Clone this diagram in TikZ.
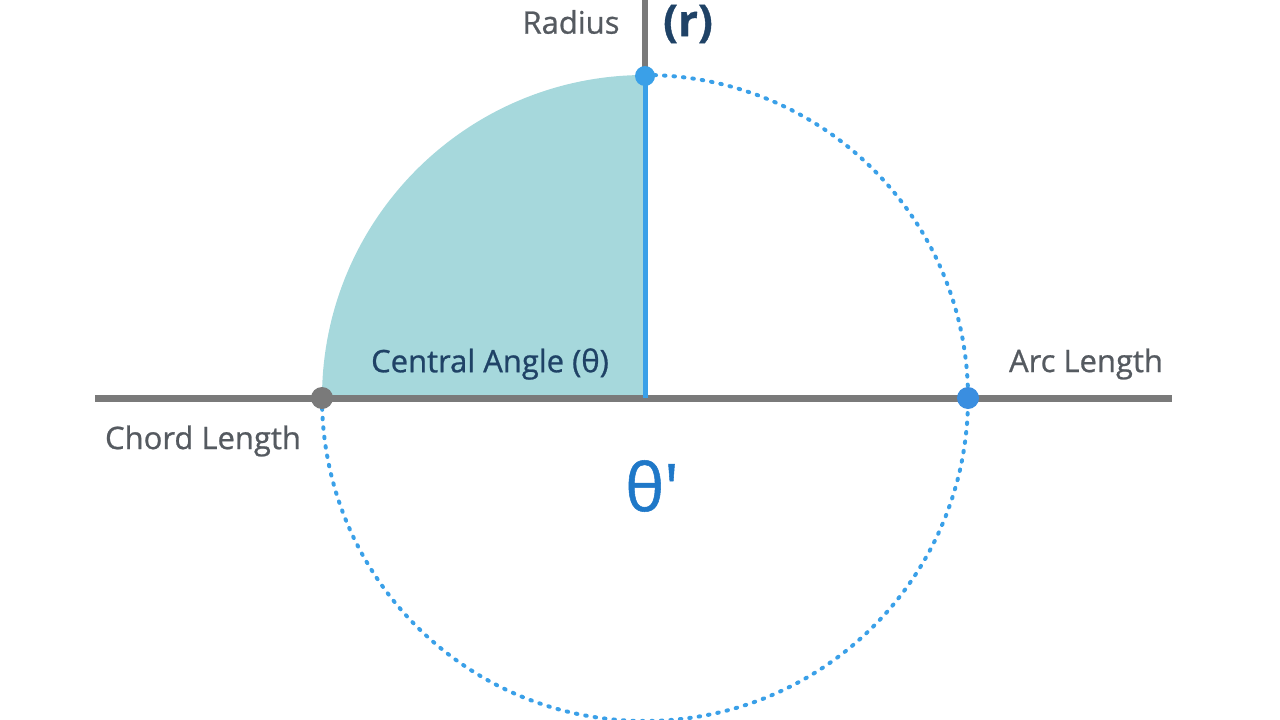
\documentclass[tikz,border=0pt]{standalone}
\usepackage{fontspec}
\setmainfont{Open Sans}[FakeBold=0.8]
\definecolor{lgray}{HTML}{7A7A7A}
\definecolor{tgray}{HTML}{555A60}
\definecolor{sblue}{HTML}{3AA0E8}
\definecolor{dblue}{HTML}{3A8EE0}
\definecolor{teal}{HTML}{A6D8DC}
\definecolor{navy}{HTML}{1F4266}
\definecolor{tblue}{HTML}{1F78C8}
\begin{document}
\begin{tikzpicture}[x=1pt,y=-1pt,
  lbl/.style={font=\fontsize{33}{35}\bfseries\selectfont},
  dotc/.style={sblue,line width=4pt,line cap=round,dash pattern=on 1.5pt off 8pt}]
\useasboundingbox (0,0) rectangle (1280,720);
\coordinate (O) at (645,398);
\fill[teal] (O) -- (322,398) arc[start angle=180,end angle=270,radius=323] -- cycle;
\draw[dotc] (645,75) arc[start angle=-90,end angle=180,radius=323];
\draw[lgray,line width=7pt] (95,398) -- (1172,398);
\draw[lgray,line width=6pt] (645,0) -- (645,76);
\draw[sblue,line width=5pt] (645,76) -- (O);
\fill[sblue] (645,76) circle (10);
\fill[lgray] (322,398) circle (11);
\fill[dblue] (968,398) circle (11);
\node[font=\fontsize{31}{33}\selectfont,text=tgray] (rad) at (571,22) {Radius};
\node[text=navy,font=\fontsize{44}{46}\selectfont\bfseries] (r) at (688,24) {(r)};
\node[font=\fontsize{31}{33}\selectfont,text=navy] (ca) at (490,364) {Central Angle (θ)};
\node[font=\fontsize{31}{33}\selectfont,text=tgray] (al) at (1086,364) {Arc Length};
\node[font=\fontsize{31}{33}\selectfont,text=tgray] (cl) at (203,441) {Chord Length};
\node[text=tblue,font=\fontsize{66}{68}\selectfont] (tp) at (652,486) {θ′};
\end{tikzpicture}
\end{document}
